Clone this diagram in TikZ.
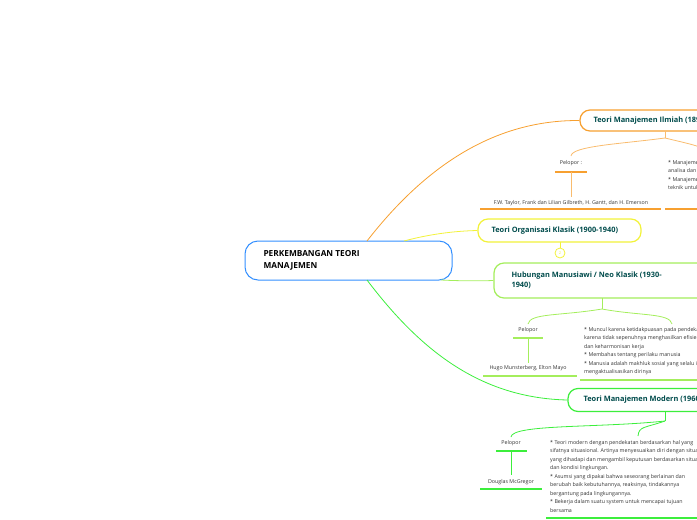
\documentclass[tikz,border=0pt]{standalone}
\usepackage{fontspec}
\setmainfont{Open Sans}
\begin{document}
\begin{tikzpicture}[x=1pt,y=-1pt,
  topic/.style={draw,rounded corners=10pt,line width=1.2pt,fill=white,inner sep=0pt},
  ttl/.style={font=\fontsize{7.4}{10.5}\selectfont\bfseries,text=teal!60!black,anchor=west,align=left},
  sm/.style={font=\fontsize{5.3}{8.5}\selectfont,text=black!80,inner sep=0pt},
  conn/.style={line width=0.8pt}]
\definecolor{cor}{HTML}{F7A030}
\definecolor{cye}{HTML}{F2F23A}
\definecolor{clg}{HTML}{A4EE5C}
\definecolor{cgr}{HTML}{3CEE3C}
\useasboundingbox (0,0) rectangle (697,520);
\clip (0,0) rectangle (697,520);
% central
\node[draw=blue!55!cyan!80!white,line width=1pt,rounded corners=13pt,minimum width=207pt,minimum height=39pt] (c) at (348.5,260.5) {};
\node[font=\fontsize{8.3}{11.5}\selectfont\bfseries,anchor=west,align=left] (ct) at (260,260.5) {PERKEMBANGAN TEORI\\MANAJEMEN};
% topic boxes
\node[topic,draw=cor,minimum width=160pt,minimum height=21pt] (t1) at (660,120.5) {};
\node[ttl] (t1t) at (590,120.5) {Teori Manajemen Ilmiah (1890-1920)};
\node[topic,draw=cye,minimum width=163pt,minimum height=23pt] (t2) at (559.5,230.5) {};
\node[ttl] (t2t) at (488,230.5) {Teori Organisasi Klasik (1900-1940)};
\node[topic,draw=clg,minimum width=230pt,minimum height=35pt] (t3) at (609,280.5) {};
\node[ttl] (t3t) at (508,280.5) {Hubungan Manusiawi / Neo Klasik (1930-\\1940)};
\node[topic,draw=cgr,minimum width=160pt,minimum height=23pt] (t4) at (648,400) {};
\node[ttl] (t4t) at (580,400) {Teori Manajemen Modern (1960-sekarang)};
% main connectors
\draw[conn,cor] (367,241) .. controls (430,160) and (500,120) .. (t1.west);
\draw[conn,cye] (404,241) .. controls (430,234) and (455,231) .. (t2.west);
\draw[conn,clg] (441,280) .. controls (460,281) and (480,281) .. (t3.west);
\draw[conn,cgr] (367,280) .. controls (420,350) and (480,398) .. (t4.west);
% circle
\draw[cye,line width=0.8pt] (560,242) -- (560,248);
\node[draw=cye,circle,line width=0.8pt,minimum size=10pt,inner sep=0pt,font=\fontsize{4}{4}\selectfont,text=cye] (k) at (560,253) {2};
% subtree 1
\coordinate (b1) at (665,138);
\draw[conn,cor!70] (665,131) -- (b1);
\node[sm] (p1) at (571,163) {Pelopor :};
\draw[conn,cor!70] (b1) .. controls (620,144) and (572,146) .. (571,156);
\draw[conn,cor!70] (b1) .. controls (690,144) and (700,146) .. (705,150);
\draw[cor,line width=1.2pt] (555,172) -- (587,172);
\draw[conn,cor!70] (571,172) -- (571,197);
\node[sm] (f1) at (571,203) {F.W. Taylor, Frank dan Lilian Gilbreth, H. Gantt, dan H. Emerson};
\draw[cor,line width=1.2pt] (480,209) -- (661,209);
\node[sm,anchor=north west,align=left] (r1) at (668,160) {* Manajemen dengan\\analisa dan pengukuran\\* Manajemen dengan\\teknik untuk};
\draw[cor,line width=1.2pt] (665,209) -- (700,209);
% subtree 3
\coordinate (b3) at (602,309);
\draw[conn,clg] (602,298) -- (b3);
\draw[conn,clg] (b3) .. controls (560,316) and (530,313) .. (528,324);
\draw[conn,clg] (b3) .. controls (640,316) and (670,313) .. (672,324);
\node[sm] (p3) at (528,330) {Pelopor};
\draw[clg,line width=1.2pt] (513,338) -- (543,338);
\draw[conn,clg] (528,338) -- (528,363);
\node[sm] (h3) at (528,368) {Hugo Munsterberg, Elton Mayo};
\draw[clg,line width=1.2pt] (483,376) -- (577,376);
\node[sm,anchor=north west,align=left] (r3) at (584,327) {* Muncul karena ketidakpuasan pada pendekatan klasik\\karena tidak sepenuhnya menghasilkan efisiensi produksi\\dan keharmonisan kerja\\* Membahas tentang perilaku manusia\\* Manusia adalah makhluk sosial yang selalu ingin\\mengaktualisasikan dirinya};
\draw[clg,line width=1.2pt] (580,380) -- (700,380);
% subtree 4
\coordinate (b4) at (665,421);
\draw[conn,cgr] (665,412) -- (b4);
\draw[conn,cgr] (b4) .. controls (600,428) and (512,424) .. (511,437);
\draw[conn,cgr] (b4) .. controls (645,428) and (639,426) .. (638,436);
\node[sm] (p4) at (511,443) {Pelopor};
\draw[cgr,line width=1.2pt] (496,451) -- (527,451);
\draw[conn,cgr] (511,451) -- (511,475);
\node[sm] (d4) at (511,482) {Douglas McGregor};
\draw[cgr,line width=1.2pt] (480,489) -- (542,489);
\node[sm,anchor=north west,align=left] (r4) at (550,440) {* Teori modern dengan pendekatan berdasarkan hal yang\\sifatnya situasional. Artinya menyesuaikan diri dengan situasi\\yang dihadapi dan mengambil keputusan berdasarkan situasi\\dan kondisi lingkungan.\\* Asumsi yang dipakai bahwa seseorang berlainan dan\\berubah baik kebutuhannya, reaksinya, tindakannya\\bergantung pada lingkungannya.\\* Bekerja dalam suatu system untuk mencapai tujuan\\bersama};
\draw[cgr,line width=1.2pt] (546,518) -- (700,518);
\end{tikzpicture}
\end{document}
